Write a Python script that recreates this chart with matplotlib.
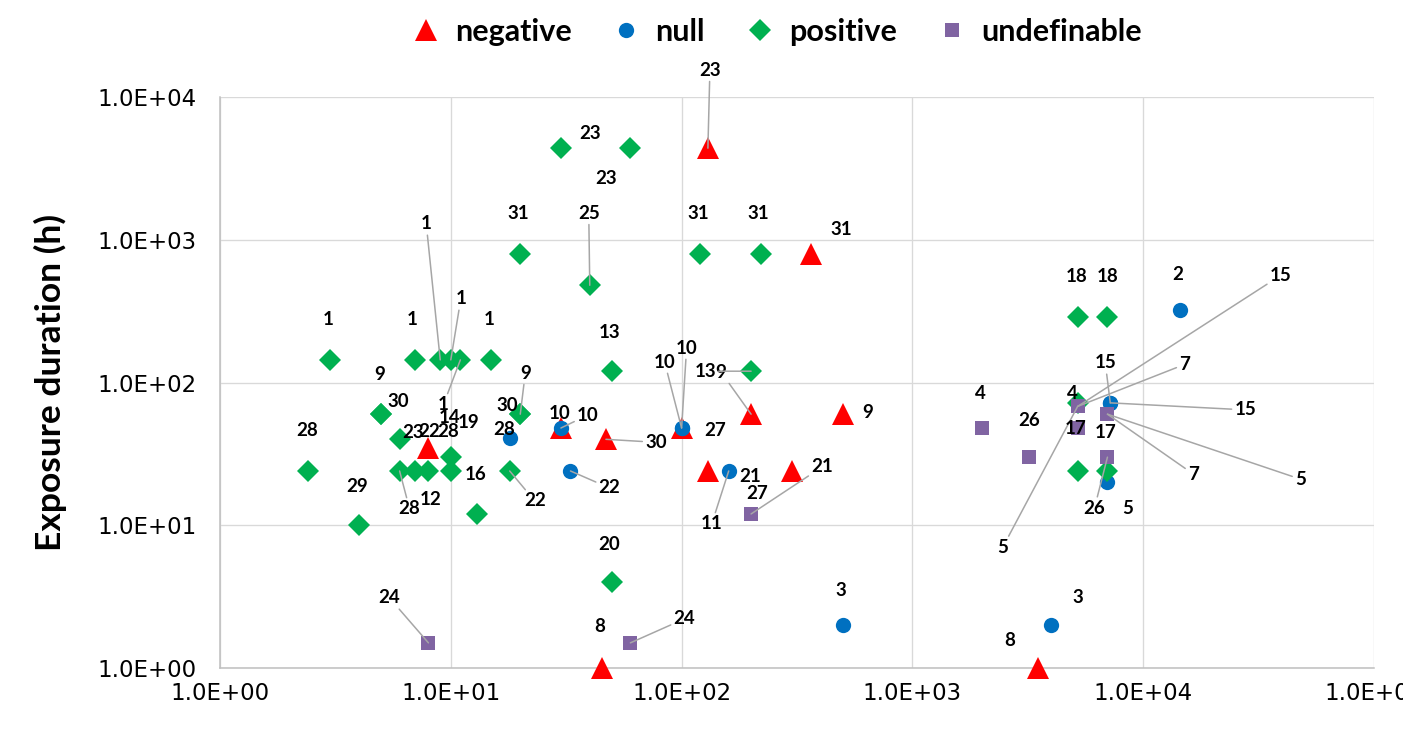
import matplotlib
matplotlib.use('Agg')
import matplotlib.pyplot as plt
from matplotlib.ticker import FixedLocator, FuncFormatter, NullLocator

# ---------------- DATA ----------------
series_names = ['negative', 'null', 'positive', 'undefinable']

neg_x = [130, 365, 8, 30, 47, 100, 200, 130, 300, 500, 45, 3500]
neg_y = [4380, 800, 35, 48, 40, 48, 60, 24, 24, 60, 1, 1]
neg_lab = ['23', '31', '22', '10', '30', '10', '9', '21', '27', '9', '8', '8']

null_x = [14400, 18, 30, 33, 100, 100, 160, 500, 4000, 7200, 7200, 7000]
null_y = [320, 41, 48, 24, 48, 48, 24, 2, 2, 72, 72, 20]
null_lab = ['2', '28', '10', '22', '27', '10', '11', '3', '3', '15', '15', '5']

pos_x = [3, 7, 9, 10, 11, 15, 5, 5, 6, 2.4, 4, 6, 7, 8, 10, 10, 13, 18, 20, 20,
         20, 30, 60, 40, 50, 50, 120, 220, 200, 5200, 7000, 5200, 5200, 7000]
pos_y = [144, 144, 144, 144, 144, 144, 60, 60, 40, 24, 10, 24, 24, 24, 30, 24, 12, 24, 60, 60,
         800, 4380, 4380, 480, 120, 4, 800, 800, 120, 288, 288, 72, 24, 24]
pos_lab = ['1', '1', '1', '1', '1', '1', '9', '30', '23', '28', '29', '28', '12', '28', '14', '16',
           '19', '22', '9', '30', '31', '23', '23', '25', '13', '20', '31', '31', '13', '18', '18',
           '4', '', '']

und_x = [8, 60, 200, 2000, 3200, 5200, 5200, 5200, 5200, 7000, 7000, 7000, 7000]
und_y = [1.5, 1.5, 12, 48, 30, 68, 68, 68, 48, 60, 60, 60, 30]
und_lab = ['24', '24', '21', '4', '26', '15', '7', '5', '17', '17', '7', '5', '26']

x_ticks = [1e0, 1e1, 1e2, 1e3, 1e4, 1e5]
y_ticks = [1e0, 1e1, 1e2, 1e3, 1e4]
y_title = 'Exposure duration (h)'

# ---------------- LAYOUT (label offsets in pixels, leader flags) ----------------
neg_off = [(2, 78), (30, 24), (1, 16), (-1, 15), (50, -3), (-17, 66), (-30, 42), (42, -6),
           (-35, -23), (25, 2), (-2, 42), (-28, 27)]
neg_lead = [1, 0, 0, 0, 1, 1, 1, 0, 0, 0, 0, 0]

null_off = [(-2, 36), (-6, 8), (27, 13), (39, -17), (34, -2), (5, 80), (-17, -53), (-2, 35),
            (26, 28), (-5, 40), (135, -7), (20, -26)]
null_lead = [0, 0, 1, 1, 0, 1, 1, 0, 0, 1, 1, 0]

pos_off = [(-2, 40), (-3, 40), (-14, 136), (10, 61), (-17, -45), (-2, 40), (-2, 40), (17, 13),
           (13, 7), (-1, 40), (-2, 39), (10, -38), (16, -29), (20, 39), (-1, 40), (25, -4),
           (-9, 91), (25, -30), (5, 41), (-13, 9), (-2, 40), (29, 15), (-24, -30), (-1, 72),
           (-3, 39), (-3, 38), (-2, 40), (-2, 40), (-46, 0), (-1, 40), (0, 40), (-5, 9),
           (0, 0), (0, 0)]
pos_lead = [0, 0, 1, 1, 1, 0, 0, 0, 0, 0, 0, 1, 0, 0, 0, 0, 0, 1, 1, 0, 0, 0, 0, 1, 0, 0, 0, 0,
            1, 0, 0, 0, 0, 0]

und_off = [(-39, 45), (54, 24), (71, 47), (-1, 35), (0, 37), (203, 131), (107, 42), (-75, -141),
           (-2, 0), (-2, -18), (86, -60), (193, -65), (-13, -51)]
und_lead = [1, 1, 1, 0, 0, 1, 1, 1, 0, 0, 1, 1, 1]

styles = {
    'negative': dict(marker='^', color='#FF0000', ms=15.5),
    'null': dict(marker='o', color='#0070C0', ms=11),
    'positive': dict(marker='D', color='#00B050', ms=11),
    'undefinable': dict(marker='s', color='#8064A2', ms=10.6),
}

data = {
    'negative': (neg_x, neg_y, neg_lab, neg_off, neg_lead),
    'null': (null_x, null_y, null_lab, null_off, null_lead),
    'positive': (pos_x, pos_y, pos_lab, pos_off, pos_lead),
    'undefinable': (und_x, und_y, und_lab, und_off, und_lead),
}

LABEL_FONT = 'Lato'

fig = plt.figure(figsize=(14.03, 7.52), dpi=100)
ax = fig.add_axes([220 / 1403, 1 - 668 / 752, (1374 - 220) / 1403, (668 - 97) / 752])
ax.set_xscale('log')
ax.set_yscale('log')
ax.set_xlim(1, 1e5)
ax.set_ylim(1, 1e4)

handles = []
for name in series_names:
    xs, ys, labs, offs, leads = data[name]
    st = styles[name]
    h, = ax.plot(xs, ys, linestyle='none', marker=st['marker'], color=st['color'],
                 markersize=st['ms'], markeredgewidth=0, clip_on=False, zorder=3, label=name)
    handles.append(h)

for name in series_names:
    xs, ys, labs, offs, leads = data[name]
    for x, y, t, (dx, dy), ld in zip(xs, ys, labs, offs, leads):
        if not t:
            continue
        kw = {}
        if ld:
            kw['arrowprops'] = dict(arrowstyle='-', color='#a6a6a6', lw=1.1,
                                    shrinkA=0, shrinkB=0)
        ax.annotate(t, xy=(x, y), xytext=(dx, dy), textcoords='offset pixels',
                    ha='center', va='center', fontsize=13.5, fontweight='bold',
                    family=LABEL_FONT, color='black', zorder=5,
                    annotation_clip=False, **kw)

ax.xaxis.set_major_locator(FixedLocator(x_ticks))
ax.yaxis.set_major_locator(FixedLocator(y_ticks))
ax.xaxis.set_minor_locator(NullLocator())
ax.yaxis.set_minor_locator(NullLocator())
fmt = FuncFormatter(lambda v, p: f'{v:.1E}')
ax.xaxis.set_major_formatter(fmt)
ax.yaxis.set_major_formatter(fmt)
ax.tick_params(axis='both', length=0, labelsize=16.5, colors='black')
ax.tick_params(axis='x', pad=10)
ax.tick_params(axis='y', pad=17)
for lab in ax.get_xticklabels() + ax.get_yticklabels():
    lab.set_family('DejaVu Sans')

ax.grid(True, which='major', color='#d9d9d9', linewidth=0.95, zorder=0)
ax.set_axisbelow(True)
for s in ['top', 'right']:
    ax.spines[s].set_visible(False)
for s in ['left', 'bottom']:
    ax.spines[s].set_color('#bfbfbf')
    ax.spines[s].set_linewidth(1.1)

ax.set_ylabel(y_title, fontsize=25.5, fontweight='bold', family=LABEL_FONT)
ax.yaxis.set_label_coords((67 - 220) / 1154, 0.5)

fig.legend(handles=handles, labels=series_names, loc='center',
           bbox_to_anchor=(776 / 1403, 1 - 32 / 752), ncol=4, frameon=False,
           handlelength=1.0, handletextpad=0.45, columnspacing=1.3,
           prop=dict(family=LABEL_FONT, weight='bold', size=22))

fig.savefig('out.png', dpi=100)
